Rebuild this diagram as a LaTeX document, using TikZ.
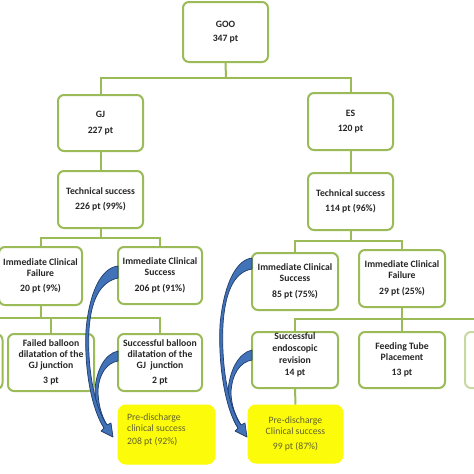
\documentclass[tikz,border=0pt]{standalone}
\usepackage{fontspec}
\setmainfont{Carlito}
\definecolor{grn}{HTML}{9BBB59}
\definecolor{ylw}{HTML}{FCFC0A}
\definecolor{olv}{HTML}{62622F}
\definecolor{abl}{HTML}{4273B8}
\definecolor{abd}{HTML}{1E3C6E}
\definecolor{txt}{HTML}{262626}
\begin{document}
\begin{tikzpicture}[x=1pt,y=-1pt,
  box/.style={draw=grn,line width=2pt,rounded corners=6pt,fill=white,align=center,
    font=\fontsize{9.7}{11}\selectfont\bfseries,text=txt,inner sep=0pt,
    minimum width=85pt,minimum height=57pt},
  btxt/.style={align=center,font=\fontsize{9.7}{11}\selectfont\bfseries,text=txt,inner sep=0pt},
  ybox/.style={draw=ylw,line width=1pt,rounded corners=8pt,fill=ylw,inner sep=0pt},
  ytxt/.style={font=\fontsize{9.7}{11}\selectfont,text=olv,inner sep=0pt},
  conn/.style={draw=grn,line width=2pt},
  arr/.style={fill=abl,draw=abd,line width=0.7pt,line join=round}]
\useasboundingbox (0,0) rectangle (474,474);
\clip (0,0) rectangle (474,474);
\fill[white] (0,0) rectangle (474,474);

% level 1-2
\node[box] (GOO) at (225.5,32) [minimum height=60pt] {GOO\\[3.5pt]347 pt};
\node[box] (GJ) at (100.5,123) [minimum height=56pt] {GJ\\[4.5pt]227 pt};
\node[box] (ES) at (350.5,121.5) {ES\\[4.5pt]120 pt};
\node[box] (TSL) at (100.5,199.5) {Technical success\\[4.5pt]226 pt (99\%)};
\node[box] (TSR) at (350.5,201.5) {Technical success\\[4.5pt]114 pt (96\%)};

% level 3
\node[box,minimum width=83pt,minimum height=58pt] (ICFL) at (40.5,276) {Immediate Clinical\\Failure\\[4.5pt]20 pt (9\%)};
\node[box,minimum width=84pt] (ICSL) at (160,275.5) {Immediate Clinical\\Success\\[4.5pt]206 pt (91\%)};
\node[box,minimum width=86pt] (ICSR) at (295,281.5) {Immediate Clinical\\Success\\[4.5pt]85 pt (75\%)};
\node[box,minimum width=86pt] (ICFR) at (402,278.5) {Immediate Clinical\\Failure\\[4.5pt]29 pt (25\%)};

% level 4
\node[box,minimum width=85pt,minimum height=55pt] (PL) at (-40,361.5) {};
\node[box,minimum width=86pt] (FBL) at (51,362.5) {Failed balloon\\dilatation of the\\GJ junction\\[4.5pt]3 pt};
\node[box,minimum width=84pt] (SBL) at (160,362.5) {Successful balloon\\dilatation of the\\GJ\ \ junction\\[4.5pt]2 pt};
\node[box,minimum width=86pt,minimum height=56pt] (SER) at (295,360) {};
\node[btxt] (SERt) at (295,354.5) {Successful\\[1pt]endoscopic\\[1pt]revision\\[1pt]14 pt};
\node[box,minimum width=86pt,minimum height=56pt] (FT) at (402,360) {Feeding Tube\\Placement\\[4.5pt]13 pt};
\node[box,draw=grn!55,minimum width=86pt,minimum height=56pt] (PR) at (508,360) {};

% yellow outcome boxes
\node[ybox,minimum width=97pt,minimum height=59pt] (YL) at (166.5,434.5) {};
\node[ytxt,anchor=west,align=left] (YLt) at (127,430) {Pre-discharge\\clinical success\\[1.5pt]208 pt (92\%)};
\node[ybox,minimum width=95pt,minimum height=58pt,align=center,ytxt] (YR) at (295.5,434) {Pre-discharge\\Clinical success\\[3.5pt]99 pt (87\%)};

% connectors
\coordinate (j1) at (226,78);
\draw[conn] (GOO.south) -- (j1);
\draw[conn] (GJ.north) |- (j1) -| (ES.north);
\draw[conn] (GJ) -- (TSL);
\draw[conn] (ES) -- (TSR);
\coordinate (j2) at (100.5,238);
\draw[conn] (TSL.south) -- (j2);
\draw[conn] (ICFL.north) |- (j2) -| (ICSL.north);
\coordinate (j3) at (350.5,241);
\draw[conn] (TSR.south) -- (j3);
\draw[conn] (ICSR.north) |- (j3) -| (ICFR.north);
\coordinate (hl) at (-10,318);
\draw[conn] (ICFL.south) -- (ICFL.south |- hl);
\draw[conn] (hl) -| (SBL.north);
\draw[conn] (FBL.north) -- (FBL.north |- hl);
\coordinate (hr) at (484,319);
\draw[conn] (SER.north) |- (hr);
\draw[conn] (ICFR.south) -- (FT.north);
\draw[conn] (SER.south) -- (YR.north);

% curved arrows, left
\filldraw[arr] (118,351) .. controls (104,354) and (96,372) .. (95,390)
  .. controls (95,405) and (99,418) .. (104,428)
  -- (107,425) .. controls (101,415) and (98,403) .. (98,390)
  .. controls (99,375) and (106,363) .. (118,361) -- cycle;
\filldraw[arr] (118,266) .. controls (100,268) and (89,295) .. (86,330)
  .. controls (84,370) and (92,410) .. (104,428)
  -- (101,431) -- (113,437) -- (111,423) -- (107,425)
  .. controls (95,408) and (87,370) .. (89,330)
  .. controls (91,300) and (100,282) .. (118,278) -- cycle;

% curved arrows, right
\filldraw[arr] (252,350) .. controls (238,353) and (229,372) .. (228,392)
  .. controls (228,406) and (232,418) .. (238,428)
  -- (241,425) .. controls (235,415) and (231,404) .. (231,392)
  .. controls (232,374) and (240,362) .. (252,360) -- cycle;
\filldraw[arr] (252,258) .. controls (234,260) and (223,290) .. (220,325)
  .. controls (218,368) and (226,410) .. (238,428)
  -- (235,431) -- (247,437) -- (245,423) -- (241,425)
  .. controls (229,408) and (221,368) .. (223,325)
  .. controls (225,292) and (234,272) .. (252,269) -- cycle;
\end{tikzpicture}
\end{document}
